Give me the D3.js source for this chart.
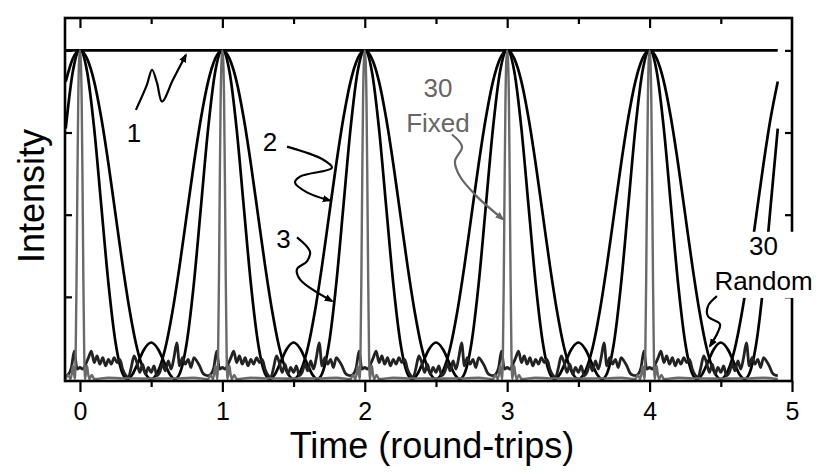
<!DOCTYPE html>
<html lang="en">
  <head>
    <meta charset="utf-8">
    <title>Mode-locked intensity</title>
    <style type="text/css">
    body { margin: 0; background: #fff; }
    svg text { font-family: "Liberation Sans", Arial, sans-serif; }
    .frame { fill: none; stroke: #000; stroke-width: 2.6; }
    .tick line { stroke: #000; stroke-width: 2.2; }
    .domain { display: none; }
    .curve { fill: none; stroke-linejoin: round; }
    </style>
  </head>
  <body>
    <script src="https://cdn.jsdelivr.net/npm/d3@7/dist/d3.min.js"></script>
    <script type="text/javascript">

    // time window drawn (round-trips) and the peaks repeated in it
    var tStart = -0.1, tEnd = 4.9;
    var roundTrips = [-1, 0, 1, 2, 3, 4, 5];

    // half-period profiles (offset from a peak, intensity)
    var offsN1 = [0, 0.1, 0.5];
    var valsN1 = [1, 1, 1];

    var offsN2 = [0, 0.05, 0.1, 0.15, 0.2, 0.25, 0.3, 0.35, 0.4, 0.45, 0.5];
    var valsN2 = [1, 0.975, 0.905, 0.794, 0.655, 0.5, 0.345, 0.206, 0.095, 0.025, 0];

    var offsN3 = [0, 0.05, 0.1, 0.15, 0.2, 0.25, 0.3, 0.333, 0.367, 0.4, 0.45, 0.5];
    var valsN3 = [1, 0.936, 0.762, 0.526, 0.291, 0.111, 0.016, 0, 0.013, 0.042, 0.09, 0.111];

    var offsFixed = [0, 0.006, 0.012, 0.018, 0.024, 0.03, 0.036, 0.045, 0.05, 0.056, 0.066, 0.083, 0.1, 0.2, 0.3, 0.4, 0.5];
    var valsFixed = [1, 0.97, 0.85, 0.6, 0.3, 0.08, 0, 0.03, 0.04, 0.02, 0, 0.012, 0, 0.004, 0.002, 0.002, 0.001];

    // 30 modes, random phases: one full round-trip (it repeats every round-trip)
    var offsRandom = d3.range(0, 0.999, 0.02);
    var valsRandom = [0.035, 0.03, 0.045, 0.065, 0.085, 0.05, 0.07, 0.045, 0.065, 0.04,
                      0.06, 0.045, 0.065, 0.05, 0.06, 0.03, 0.012, 0.005, 0.035, 0.07,
                      0.05, 0.02, 0.045, 0.015, 0.035, 0.02, 0.04, 0.01, 0.02, 0.045,
                      0.025, 0.055, 0.03, 0.065, 0.11, 0.04, 0.065, 0.045, 0.06, 0.035,
                      0.065, 0.055, 0.04, 0.02, 0.012, 0.01, 0.015, 0.035, 0.085, 0.03];

    var xTicks = [0, 1, 2, 3, 4, 5];
    var xMinorTicks = [0.5, 1.5, 2.5, 3.5, 4.5];
    var yTicks = [0.25, 0.5, 0.75, 1];

    // labels and arrows (data units)
    var labels = [
      { lines: ["1"], t: 0.379, v: [0.72], color: "#000" },
      { lines: ["2"], t: 1.334, v: [0.695], color: "#000" },
      { lines: ["3"], t: 1.429, v: [0.398], color: "#000" },
      { lines: ["30", "Fixed"], t: 2.514, v: [0.858, 0.753], color: "#666" },
      { lines: ["30", "Random"], t: 4.80, v: [0.378, 0.271], color: "#000", boxed: true }
    ];
    var arrows = [
      { color: "#000", pts: [[0.393, 0.819], [0.470, 0.895], [0.506, 0.941], [0.541, 0.901], [0.576, 0.844], [0.654, 0.911], [0.744, 0.986]] },
      { color: "#000", pts: [[1.454, 0.707], [1.706, 0.668], [1.770, 0.643], [1.545, 0.616], [1.510, 0.598], [1.594, 0.568], [1.756, 0.543]] },
      { color: "#000", pts: [[1.524, 0.431], [1.615, 0.388], [1.594, 0.358], [1.524, 0.334], [1.545, 0.303], [1.770, 0.237]] },
      { color: "#666", pts: [[2.612, 0.744], [2.683, 0.707], [2.633, 0.662], [2.669, 0.616], [2.788, 0.555], [2.971, 0.486]] },
      { color: "#000", pts: [[4.473, 0.252], [4.410, 0.222], [4.410, 0.191], [4.494, 0.167], [4.480, 0.143], [4.424, 0.100]] }
    ];

    var width = 826, height = 475;
    var plotL = 65, plotR = 792, plotT = 18, plotB = 381;

    var svg = d3.select("body").append("svg")
        .attr("width", width)
        .attr("height", height);

    var x = d3.scaleLinear().domain([-0.105, 5]).range([plotL, plotR]);
    var y = d3.scaleLinear().domain([0, 1.1]).range([379, 17.5]);

    // arrow heads
    var defs = svg.append("defs");
    ["#000", "#666"].forEach(function(c, i) {
      defs.append("marker")
        .attr("id", "head" + i)
        .attr("viewBox", "0 0 10 10")
        .attr("refX", 8).attr("refY", 5)
        .attr("markerWidth", 9).attr("markerHeight", 9)
        .attr("markerUnits", "userSpaceOnUse")
        .attr("orient", "auto")
        .append("path")
        .attr("d", "M0,1 L10,5 L0,9 Z")
        .attr("fill", c);
    });

    // mirror a half profile round each peak, repeat for every round-trip
    function buildSeries(offs, vals) {
      var pts = [];
      roundTrips.forEach(function(k) {
        for (var i = offs.length - 1; i > 0; i--) {
          if (offs[i] < 0.5) pts.push([k - offs[i], vals[i]]);
        }
        for (var j = 0; j < offs.length; j++) pts.push([k + offs[j], vals[j]]);
      });
      return pts.filter(function(p) { return p[0] >= tStart - 1e-6 && p[0] <= tEnd + 1e-6; });
    }
    function buildRandom() {
      var pts = [];
      roundTrips.forEach(function(k) {
        offsRandom.forEach(function(u, i) { pts.push([k + u, valsRandom[i]]); });
      });
      return pts.filter(function(p) { return p[0] >= tStart - 1e-6 && p[0] <= tEnd + 1e-6; });
    }

    var series = [
      { pts: buildSeries(offsN1, valsN1), color: "#000", w: 2.7 },
      { pts: buildSeries(offsN2, valsN2), color: "#000", w: 2.7 },
      { pts: buildSeries(offsN3, valsN3), color: "#000", w: 2.7 },
      { pts: buildRandom(), color: "#222", w: 2.8 },
      { pts: buildSeries(offsFixed, valsFixed), color: "#6a6a6a", w: 2.4 }
    ];

    var line = d3.line()
        .x(function(d) { return x(d[0]); })
        .y(function(d) { return y(d[1]); })
        .curve(d3.curveMonotoneX);

    svg.selectAll(".curve")
      .data(series)
      .enter()
      .append("path")
      .attr("class", "curve")
      .attr("d", function(d) { return line(d.pts); })
      .attr("stroke", function(d) { return d.color; })
      .attr("stroke-width", function(d) { return d.w; });

    // frame
    svg.append("rect")
      .attr("class", "frame")
      .attr("x", plotL).attr("y", plotT)
      .attr("width", plotR - plotL).attr("height", plotB - plotT);

    // bottom axis: labelled majors + short minors, pointing out
    svg.append("g")
      .attr("transform", "translate(0," + plotB + ")")
      .call(d3.axisBottom(x).tickValues(xTicks).tickSize(11).tickSizeOuter(0).tickPadding(10).tickFormat(d3.format("d")))
      .call(function(g) {
        g.selectAll("text").attr("font-size", 25).attr("fill", "#000")
          .attr("font-family", "Liberation Sans, Arial, sans-serif");
      });
    svg.append("g")
      .attr("transform", "translate(0," + plotB + ")")
      .call(d3.axisBottom(x).tickValues(xMinorTicks).tickSize(6).tickSizeOuter(0).tickFormat(""));

    // top axis: ticks pointing in
    svg.append("g")
      .attr("transform", "translate(0," + plotT + ")")
      .call(d3.axisBottom(x).tickValues(xTicks.slice(0, 5)).tickSize(10).tickSizeOuter(0).tickFormat(""));
    svg.append("g")
      .attr("transform", "translate(0," + plotT + ")")
      .call(d3.axisBottom(x).tickValues(xMinorTicks).tickSize(6).tickSizeOuter(0).tickFormat(""));

    // left and right axes: ticks pointing in, no labels
    svg.append("g")
      .attr("transform", "translate(" + plotL + ",0)")
      .call(d3.axisRight(y).tickValues(yTicks).tickSize(7).tickSizeOuter(0).tickFormat(""));
    svg.append("g")
      .attr("transform", "translate(" + plotR + ",0)")
      .call(d3.axisLeft(y).tickValues(yTicks).tickSize(7).tickSizeOuter(0).tickFormat(""));

    // axis titles
    svg.append("text")
      .attr("x", 432).attr("y", 458)
      .attr("text-anchor", "middle")
      .attr("font-size", 36)
      .text("Time (round-trips)");
    svg.append("text")
      .attr("transform", "translate(44,196) rotate(-90)")
      .attr("text-anchor", "middle")
      .attr("font-size", 36)
      .text("Intensity");

    // labels
    labels.forEach(function(l) {
      var g = svg.append("g");
      var box = g.append("rect").attr("fill", "#fff");
      l.lines.forEach(function(s, i) {
        g.append("text")
          .attr("x", x(l.t)).attr("y", y(l.v[i]))
          .attr("text-anchor", "middle")
          .attr("font-size", 26)
          .attr("fill", l.color)
          .text(s);
      });
      if (l.boxed) {
        var b = g.node().getBBox();
        box.attr("x", b.x - 4).attr("y", b.y + 1)
          .attr("width", b.width + 8).attr("height", b.height + 1);
      } else {
        box.remove();
      }
    });

    // squiggly arrows
    var arrowLine = d3.line()
        .x(function(d) { return x(d[0]); })
        .y(function(d) { return y(d[1]); })
        .curve(d3.curveCatmullRom.alpha(0.5));

    arrows.forEach(function(a) {
      svg.append("path")
        .attr("d", arrowLine(a.pts))
        .attr("fill", "none")
        .attr("stroke", a.color)
        .attr("stroke-width", 2.2)
        .attr("marker-end", "url(#head" + (a.color === "#000" ? 0 : 1) + ")");
    });

    </script>
  </body>
</html>
